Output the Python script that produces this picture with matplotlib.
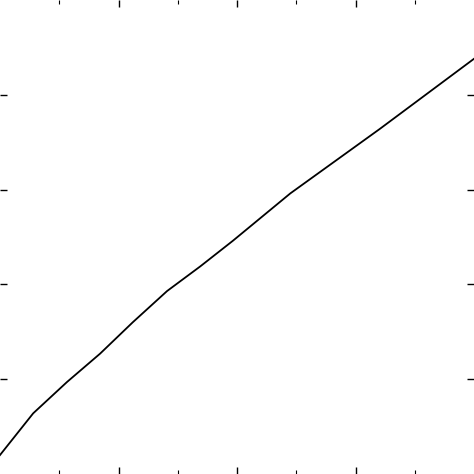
import matplotlib
matplotlib.use("Agg")
import matplotlib.pyplot as plt

x = [0.0, 0.56, 1.13, 1.69, 2.24, 2.82, 3.38, 3.93, 4.9, 6.41, 8.0]
y = [0.2, 0.64, 0.97, 1.27, 1.6, 1.93, 2.19, 2.46, 2.96, 3.64, 4.38]

fig = plt.figure(figsize=(4.74, 4.74), dpi=100)
ax = fig.add_axes([0, 0, 1, 1])
ax.plot(x, y, color="black", lw=1.3)
ax.set_xlim(0, 8)
ax.set_ylim(0, 5)
ax.set_xticks([2, 4, 6])
ax.set_xticks([1, 3, 5, 7], minor=True)
ax.set_yticks([1, 2, 3, 4])
ax.tick_params(which="both", direction="in", top=True, right=True, labelbottom=False, labelleft=False, color="black")
ax.tick_params(which="major", length=5, width=1)
ax.tick_params(which="minor", length=3, width=0.8)
for s in ax.spines.values():
    s.set_visible(False)
fig.savefig("out.png", dpi=100)
